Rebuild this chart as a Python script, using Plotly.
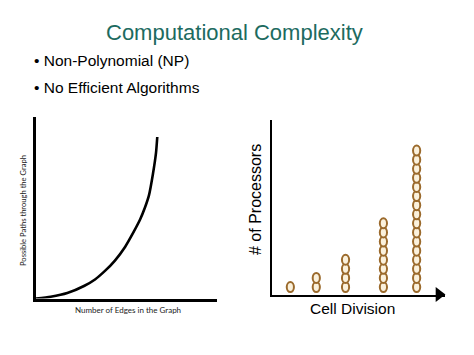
import plotly.graph_objects as go

W, H = 474, 355

# ---- data ----
title_text = "Computational Complexity"
bullets = ["• Non-Polynomial (NP)", "• No Efficient Algorithms"]

# left chart: growth curve (axis units 0-100)
edges = [0, 8.1, 17.3, 26.5, 32.6, 38.1, 43.6, 49.2, 53.8, 57.5, 60.2, 62.4, 64.6, 66.3, 67.0]
paths = [0, 1.0, 3.0, 6.9, 10.5, 15.2, 20.9, 28.4, 36.4, 43.5, 50.1, 56.8, 68.6, 80.2, 89.0]
left_xlabel = "Number of Edges in the Graph"
left_ylabel = "Possible Paths through the Graph"

# right chart: processors per cell-division step
division_x = [10.6, 25.6, 42.5, 64.4, 83.6]
processors = [1, 2, 4, 8, 16]
right_xlabel = "Cell Division"
right_ylabel = "# of Processors"

def px(x):
    return x / W

def py(y):
    return 1 - y / H

fig = go.Figure()

fig.add_trace(go.Scatter(
    x=edges, y=paths, mode="lines",
    line=dict(color="black", width=2.6, shape="spline", smoothing=0.6),
    xaxis="x", yaxis="y", hoverinfo="skip", cliponaxis=False,
))

# arrow head of right x axis
fig.add_trace(go.Scatter(
    x=[96.5], y=[-0.32], mode="markers",
    marker=dict(symbol="triangle-right", size=13, color="black"),
    xaxis="x2", yaxis="y2", cliponaxis=False, hoverinfo="skip",
))

shapes = []
for xc, n in zip(division_x, processors):
    for i in range(n):
        shapes.append(dict(
            type="circle", xref="x2", yref="y2",
            xsizemode="pixel", ysizemode="pixel",
            xanchor=xc, yanchor=i + 0.5,
            x0=-3.6, x1=3.6, y0=-5.0, y1=5.0,
            line=dict(color="#9b6a2c", width=2),
            fillcolor="#fbf1dc", layer="above",
        ))

axis_common = dict(showgrid=False, zeroline=False, showticklabels=False,
                   ticks="", showline=True, linecolor="black")

annotations = [
    dict(text=title_text, x=px(234), y=py(33), xref="paper", yref="paper",
         showarrow=False, xanchor="center", yanchor="middle",
         font=dict(family="Liberation Sans, Arial", size=22, color="#1d6b5f")),
    dict(text=bullets[0], x=px(32), y=py(60), xref="paper", yref="paper",
         showarrow=False, xanchor="left", yanchor="middle",
         font=dict(family="Liberation Sans, Arial", size=15.5, color="black")),
    dict(text=bullets[1], x=px(32), y=py(87), xref="paper", yref="paper",
         showarrow=False, xanchor="left", yanchor="middle",
         font=dict(family="Liberation Sans, Arial", size=15.5, color="black")),
    dict(text=left_xlabel, x=px(128), y=py(310), xref="paper", yref="paper",
         showarrow=False, xanchor="center", yanchor="middle",
         font=dict(family="Lato", size=8, color="#222")),
    dict(text=left_ylabel, x=px(23), y=py(211), xref="paper", yref="paper",
         showarrow=False, xanchor="center", yanchor="middle", textangle=-90,
         font=dict(family="Lato", size=7.6, color="#222")),
    dict(text=right_xlabel, x=px(352), y=py(308), xref="paper", yref="paper",
         showarrow=False, xanchor="center", yanchor="middle",
         font=dict(family="Liberation Sans, Arial", size=15.5, color="black")),
    dict(text=right_ylabel, x=px(255), y=py(200), xref="paper", yref="paper",
         showarrow=False, xanchor="center", yanchor="middle", textangle=-90,
         font=dict(family="Liberation Sans, Arial", size=16, color="black")),
]

fig.update_layout(
    width=W, height=H, margin=dict(l=0, r=0, t=0, b=0),
    paper_bgcolor="white", plot_bgcolor="white", showlegend=False,
    xaxis=dict(domain=[px(36), px(217)], range=[0, 100], linewidth=2.6,
               anchor="y", **axis_common),
    yaxis=dict(domain=[py(298.5), py(117)], range=[0, 100], linewidth=2.6,
               anchor="x", **axis_common),
    xaxis2=dict(domain=[px(272), px(445)], range=[0, 100], linewidth=2,
                anchor="y2", **axis_common),
    yaxis2=dict(domain=[py(294.5), py(120)], range=[-0.32, 18.86], linewidth=2,
                anchor="x2", **axis_common),
    shapes=shapes, annotations=annotations,
)

fig.write_html("out.html")
